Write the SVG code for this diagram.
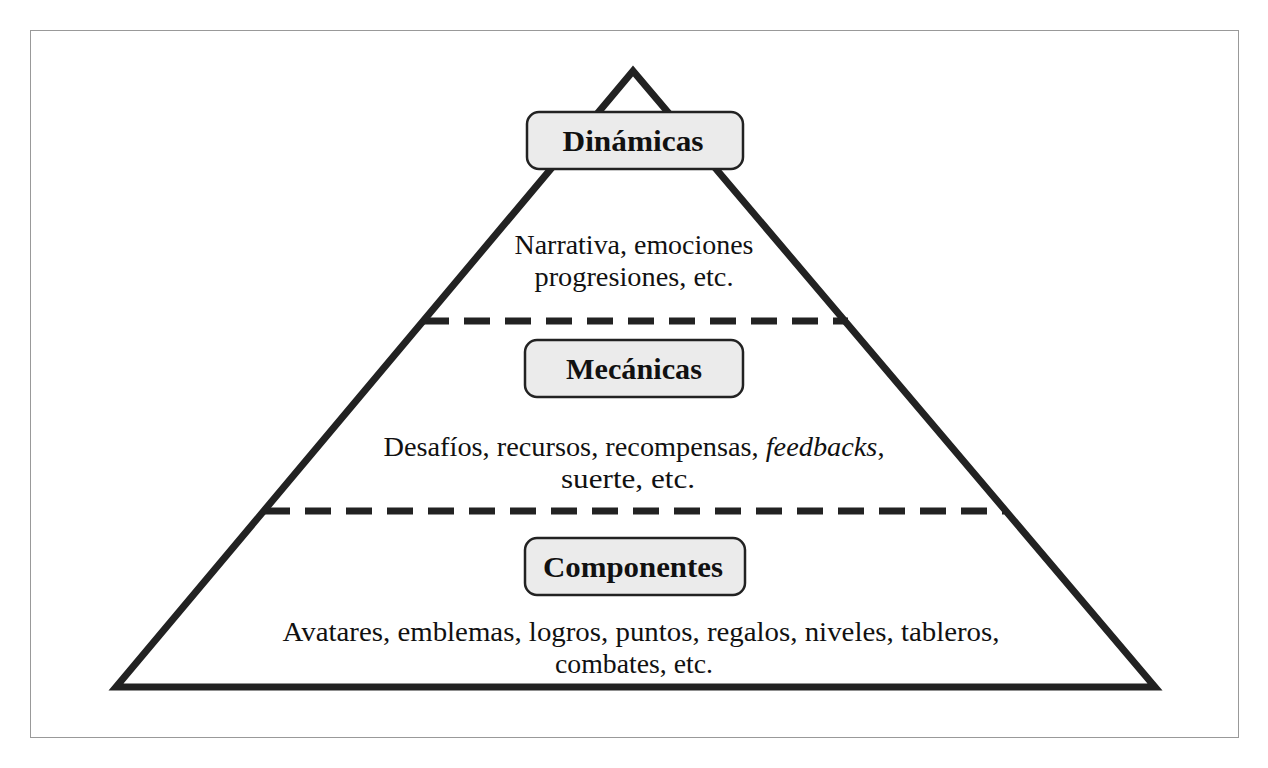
<svg xmlns="http://www.w3.org/2000/svg" width="1268" height="768" viewBox="0 0 1268 768">
<style>
.box{fill:#ebebeb;stroke:#222;stroke-width:2.5}
.t{font-family:"Liberation Serif",serif;font-size:29px;font-weight:bold;text-anchor:middle;fill:#111}
.b{font-family:"Liberation Serif",serif;font-size:27px;text-anchor:middle;fill:#111}
.d{stroke:#222;stroke-width:7;stroke-dasharray:26 15;fill:none}
</style>
<rect x="0" y="0" width="1268" height="768" fill="#fff"/>
<rect x="30.5" y="30.5" width="1208" height="707" fill="none" stroke="#999" stroke-width="1"/>
<g id="connectors">
<polygon points="633,71 116,687 1155,687" fill="none" stroke="#222" stroke-width="7" stroke-linejoin="miter"/>
<line class="d" x1="423" y1="321" x2="848" y2="321"/>
<line class="d" x1="264" y1="511" x2="1004" y2="511"/>
</g>
<g id="dinamicas">
<rect class="box" x="527" y="112" width="216" height="57" rx="12"/>
<text class="t" x="633" y="151" textLength="141" lengthAdjust="spacingAndGlyphs">Dinámicas</text>
<text class="b" x="634" y="254" textLength="239" lengthAdjust="spacingAndGlyphs">Narrativa, emociones</text>
<text class="b" x="634" y="286" textLength="199" lengthAdjust="spacingAndGlyphs">progresiones, etc.</text>
</g>
<g id="mecanicas">
<rect class="box" x="525" y="340" width="218" height="57" rx="12"/>
<text class="t" x="634" y="379" textLength="136" lengthAdjust="spacingAndGlyphs">Mecánicas</text>
<text class="b" x="634" y="456" textLength="501" lengthAdjust="spacingAndGlyphs">Desafíos, recursos, recompensas, <tspan font-style="italic">feedbacks</tspan>,</text>
<text class="b" x="628" y="488" textLength="134" lengthAdjust="spacingAndGlyphs">suerte, etc.</text>
</g>
<g id="componentes">
<rect class="box" x="525" y="538" width="220" height="57" rx="12"/>
<text class="t" x="633" y="577" textLength="180" lengthAdjust="spacingAndGlyphs">Componentes</text>
<text class="b" x="641" y="641" textLength="717" lengthAdjust="spacingAndGlyphs">Avatares, emblemas, logros, puntos, regalos, niveles, tableros,</text>
<text class="b" x="634" y="673" textLength="158" lengthAdjust="spacingAndGlyphs">combates, etc.</text>
</g>
</svg>
